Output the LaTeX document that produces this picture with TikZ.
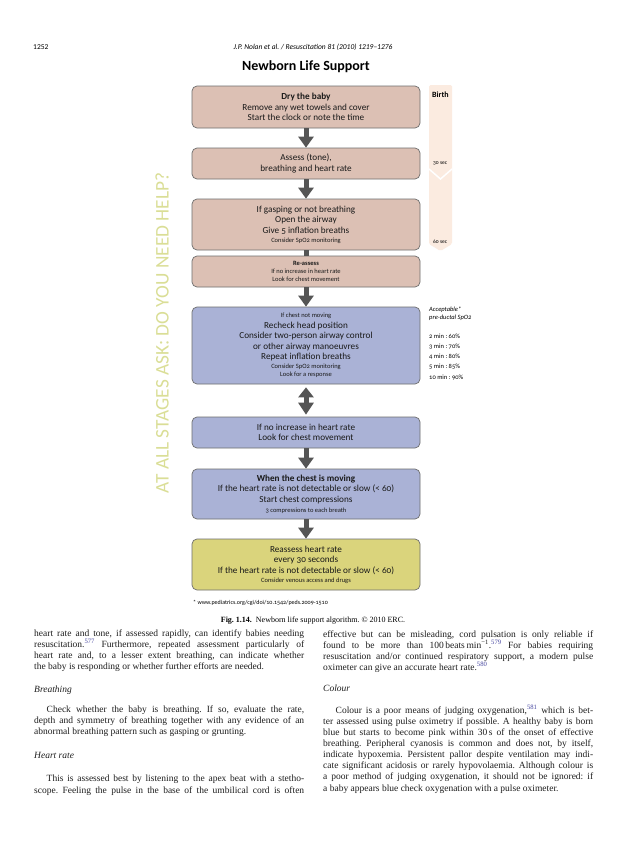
\documentclass[tikz,border=0pt]{standalone}
\usepackage{fontspec}
\setmainfont{Liberation Serif}
\newfontfamily\boxfont{Carlito}[Numbers=OldStyle]
\newfontfamily\capfont{Carlito}
\usetikzlibrary{arrows.meta}
\definecolor{dryfill}{RGB}{220,192,180}
\definecolor{bluefill}{RGB}{170,178,214}
\definecolor{yellowfill}{RGB}{218,212,124}
\definecolor{boxline}{RGB}{110,110,110}
\definecolor{arrowgrey}{RGB}{85,85,85}
\definecolor{bandfill}{RGB}{251,235,224}
\definecolor{helpgreen}{RGB}{218,222,150}
\definecolor{refblue}{RGB}{70,70,160}
\definecolor{bodytext}{RGB}{30,30,30}
\newlength{\colw}\setlength{\colw}{270pt}
\newcommand{\jline}[1]{\makebox[\colw][s]{#1}}
\newcommand{\iline}[1]{\hspace*{12.5pt}\makebox[\dimexpr\colw-12.5pt\relax][s]{#1}}
\newcommand{\refno}[1]{\textsuperscript{\color{refblue}#1}}
\newcommand{\smalltxt}{\fontsize{6.5}{8}\selectfont}
\frenchspacing

\begin{document}
\begin{tikzpicture}[x=1pt, y=-1pt,
		nlsbox/.style={draw=boxline, line width=0.7pt, rounded corners=5pt, minimum width=228pt, align=center, text=black!90, font=\boxfont\fontsize{9.2}{10.5}\selectfont},
		flowarrow/.style={arrowgrey, line width=5pt, -{Triangle[width=15pt, length=11pt]}},
		flowstem/.style={arrowgrey, line width=5pt},
		bodycol/.style={anchor=base west, inner sep=0pt, align=left, text=bodytext, font=\fontsize{9.5}{11.1}\selectfont}]
		\fill[white] (0,0) rectangle (638,851);
		\useasboundingbox (0,0) rectangle (638,851);
		% page head
		\node[anchor=base west, inner sep=0pt, font=\capfont\fontsize{7.5}{9}\selectfont] (pageno) at (33,49) {1252};
		\node[anchor=base, inner sep=0pt, font=\capfont\itshape\fontsize{7.5}{9}\selectfont] (journal) at (313,49) {J.P. Nolan et al. / Resuscitation 81 (2010) 1219–1276};
		\node[font=\capfont\bfseries\fontsize{14}{16}\selectfont] (title) at (306,67) {Newborn Life Support};
		% help reminder
		\node[rotate=90, anchor=base, inner sep=0pt, text=helpgreen, font=\capfont\fontsize{19.3}{22}\selectfont] (help) at (168.5,333) {AT ALL STAGES ASK: DO YOU NEED HELP?};
		% time band
		\fill[bandfill, rounded corners=1.5pt] (429,85) -- (452,85) -- (452,244) -- (440.5,251) -- (429,244) -- cycle;
		\draw[white, line width=1.5pt] (429,169) -- (440.5,179) -- (452,169);
		\node[anchor=base west, inner sep=0pt, font=\capfont\bfseries\fontsize{8}{9}\selectfont] (birth) at (432,97) {Birth};
		\node[anchor=base west, inner sep=0pt, font=\boxfont\fontsize{5.5}{7}\selectfont] (t30) at (433,164) {30 sec};
		\node[anchor=base west, inner sep=0pt, font=\boxfont\fontsize{5.5}{7}\selectfont] (t60) at (433,243) {60 sec};
		% algorithm boxes
		\node[nlsbox, fill=dryfill, minimum height=42pt] (b1) at (306,107) {{\bfseries Dry the baby}\\ Remove any wet towels and cover\\ Start the clock or note the time};
		\node[nlsbox, fill=dryfill, minimum height=31pt] (b2) at (306,163.5) {Assess (tone),\\ breathing and heart rate};
		\node[nlsbox, fill=dryfill, minimum height=51pt] (b3) at (306,224.5) {If gasping or not breathing\\ Open the airway\\ Give 5 inflation breaths\\[-1.5pt] {\smalltxt Consider SpO2 monitoring}};
		\node[nlsbox, fill=dryfill, minimum height=31pt, font=\boxfont\smalltxt] (b4) at (306,271.5) {{\bfseries Re-assess}\\ If no increase in heart rate\\ Look for chest movement};
		\node[nlsbox, fill=bluefill, minimum height=77pt] (b5) at (306,345.5) {{\smalltxt If chest not moving}\\ Recheck head position\\ Consider two-person airway control\\ or other airway manoeuvres\\ Repeat inflation breaths\\[-1.5pt] {\smalltxt Consider SpO2 monitoring}\\[-2.5pt] {\smalltxt Look for a response}};
		\node[nlsbox, fill=bluefill, minimum height=31pt] (b6) at (306,432.5) {If no increase in heart rate\\ Look for chest movement};
		\node[nlsbox, fill=bluefill, minimum height=50pt] (b7) at (306,494) {{\bfseries When the chest is moving}\\ If the heart rate is not detectable or slow (< 60)\\ Start chest compressions\\[-0.5pt] {\smalltxt 3 compressions to each breath}};
		\node[nlsbox, fill=yellowfill, minimum height=51pt] (b8) at (306,564.5) {Reassess heart rate\\ every 30 seconds\\ If the heart rate is not detectable or slow (< 60)\\[-1.5pt] {\smalltxt Consider venous access and drugs}};
		% connectors
		\draw[flowarrow] (b1) -- (b2);
		\draw[flowarrow] (b2) -- (b3);
		\draw[flowstem] (b3) -- (b4);
		\draw[flowarrow] (b4) -- (b5);
		\draw[arrowgrey, line width=5pt, {Triangle[width=15pt, length=10pt]}-{Triangle[width=15pt, length=12pt]}, shorten <=3pt, shorten >=2pt] (b5) -- (b6);
		\draw[flowarrow] (b6) -- (b7);
		\draw[flowarrow] (b7) -- (b8);
		% saturation targets (base = last line)
		\node[anchor=base west, inner sep=0pt, align=left, font=\boxfont\itshape\fontsize{6.5}{8}\selectfont] (accept) at (429,319) {Acceptable*\\ pre-ductal SpO2};
		\node[anchor=base west, inner sep=0pt, align=left, font=\boxfont\fontsize{6.5}{10.25}\selectfont] (targets) at (429,379) {2 min : 60\%\\ 3 min : 70\%\\ 4 min : 80\%\\ 5 min : 85\%\\ 10 min : 90\%};
		\node[anchor=base west, inner sep=0pt, font=\boxfont\fontsize{6}{7}\selectfont] (footnote) at (193,604) {* www.pediatrics.org/cgi/doi/10.1542/peds.2009-1510};
		\node[anchor=base, inner sep=0pt, font=\fontsize{8}{9}\selectfont] (caption) at (313,622) {\textbf{Fig. 1.14.}\enspace Newborn life support algorithm. © 2010 ERC.};
		% body text (base = last line)
		\node[bodycol] (leftcol) at (34,793) {\jline{heart rate and tone, if assessed rapidly, can identify babies needing}\\
			\jline{resuscitation.\refno{577} Furthermore, repeated assessment particularly of}\\
			\jline{heart rate and, to a lesser extent breathing, can indicate whether}\\
			the baby is responding or whether further efforts are needed.\\[11.9pt]
			\textit{Breathing}\\[8.9pt]
			\iline{Check whether the baby is breathing. If so, evaluate the rate,}\\
			\jline{depth and symmetry of breathing together with any evidence of an}\\
			abnormal breathing pattern such as gasping or grunting.\\[12.9pt]
			\textit{Heart rate}\\[11.9pt]
			\iline{This is assessed best by listening to the apex beat with a stetho-}\\
			\jline{scope. Feeling the pulse in the base of the umbilical cord is often}};
		\node[bodycol] (rightcol) at (323,791) {\jline{effective but can be misleading, cord pulsation is only reliable if}\\
			\jline{found to be more than 100\,beats\,min\textsuperscript{−1}.\refno{579} For babies requiring}\\
			\jline{resuscitation and/or continued respiratory support, a modern pulse}\\
			oximeter can give an accurate heart rate.\refno{580}\\[9.9pt]
			\textit{Colour}\\[10.9pt]
			\iline{Colour is a poor means of judging oxygenation,\refno{581} which is bet-}\\
			\jline{ter assessed using pulse oximetry if possible. A healthy baby is born}\\
			\jline{blue but starts to become pink within 30\,s of the onset of effective}\\
			\jline{breathing. Peripheral cyanosis is common and does not, by itself,}\\
			\jline{indicate hypoxemia. Persistent pallor despite ventilation may indi-}\\
			\jline{cate significant acidosis or rarely hypovolaemia. Although colour is}\\
			\jline{a poor method of judging oxygenation, it should not be ignored: if}\\
			a baby appears blue check oxygenation with a pulse oximeter.};
	\end{tikzpicture}
\end{document}
